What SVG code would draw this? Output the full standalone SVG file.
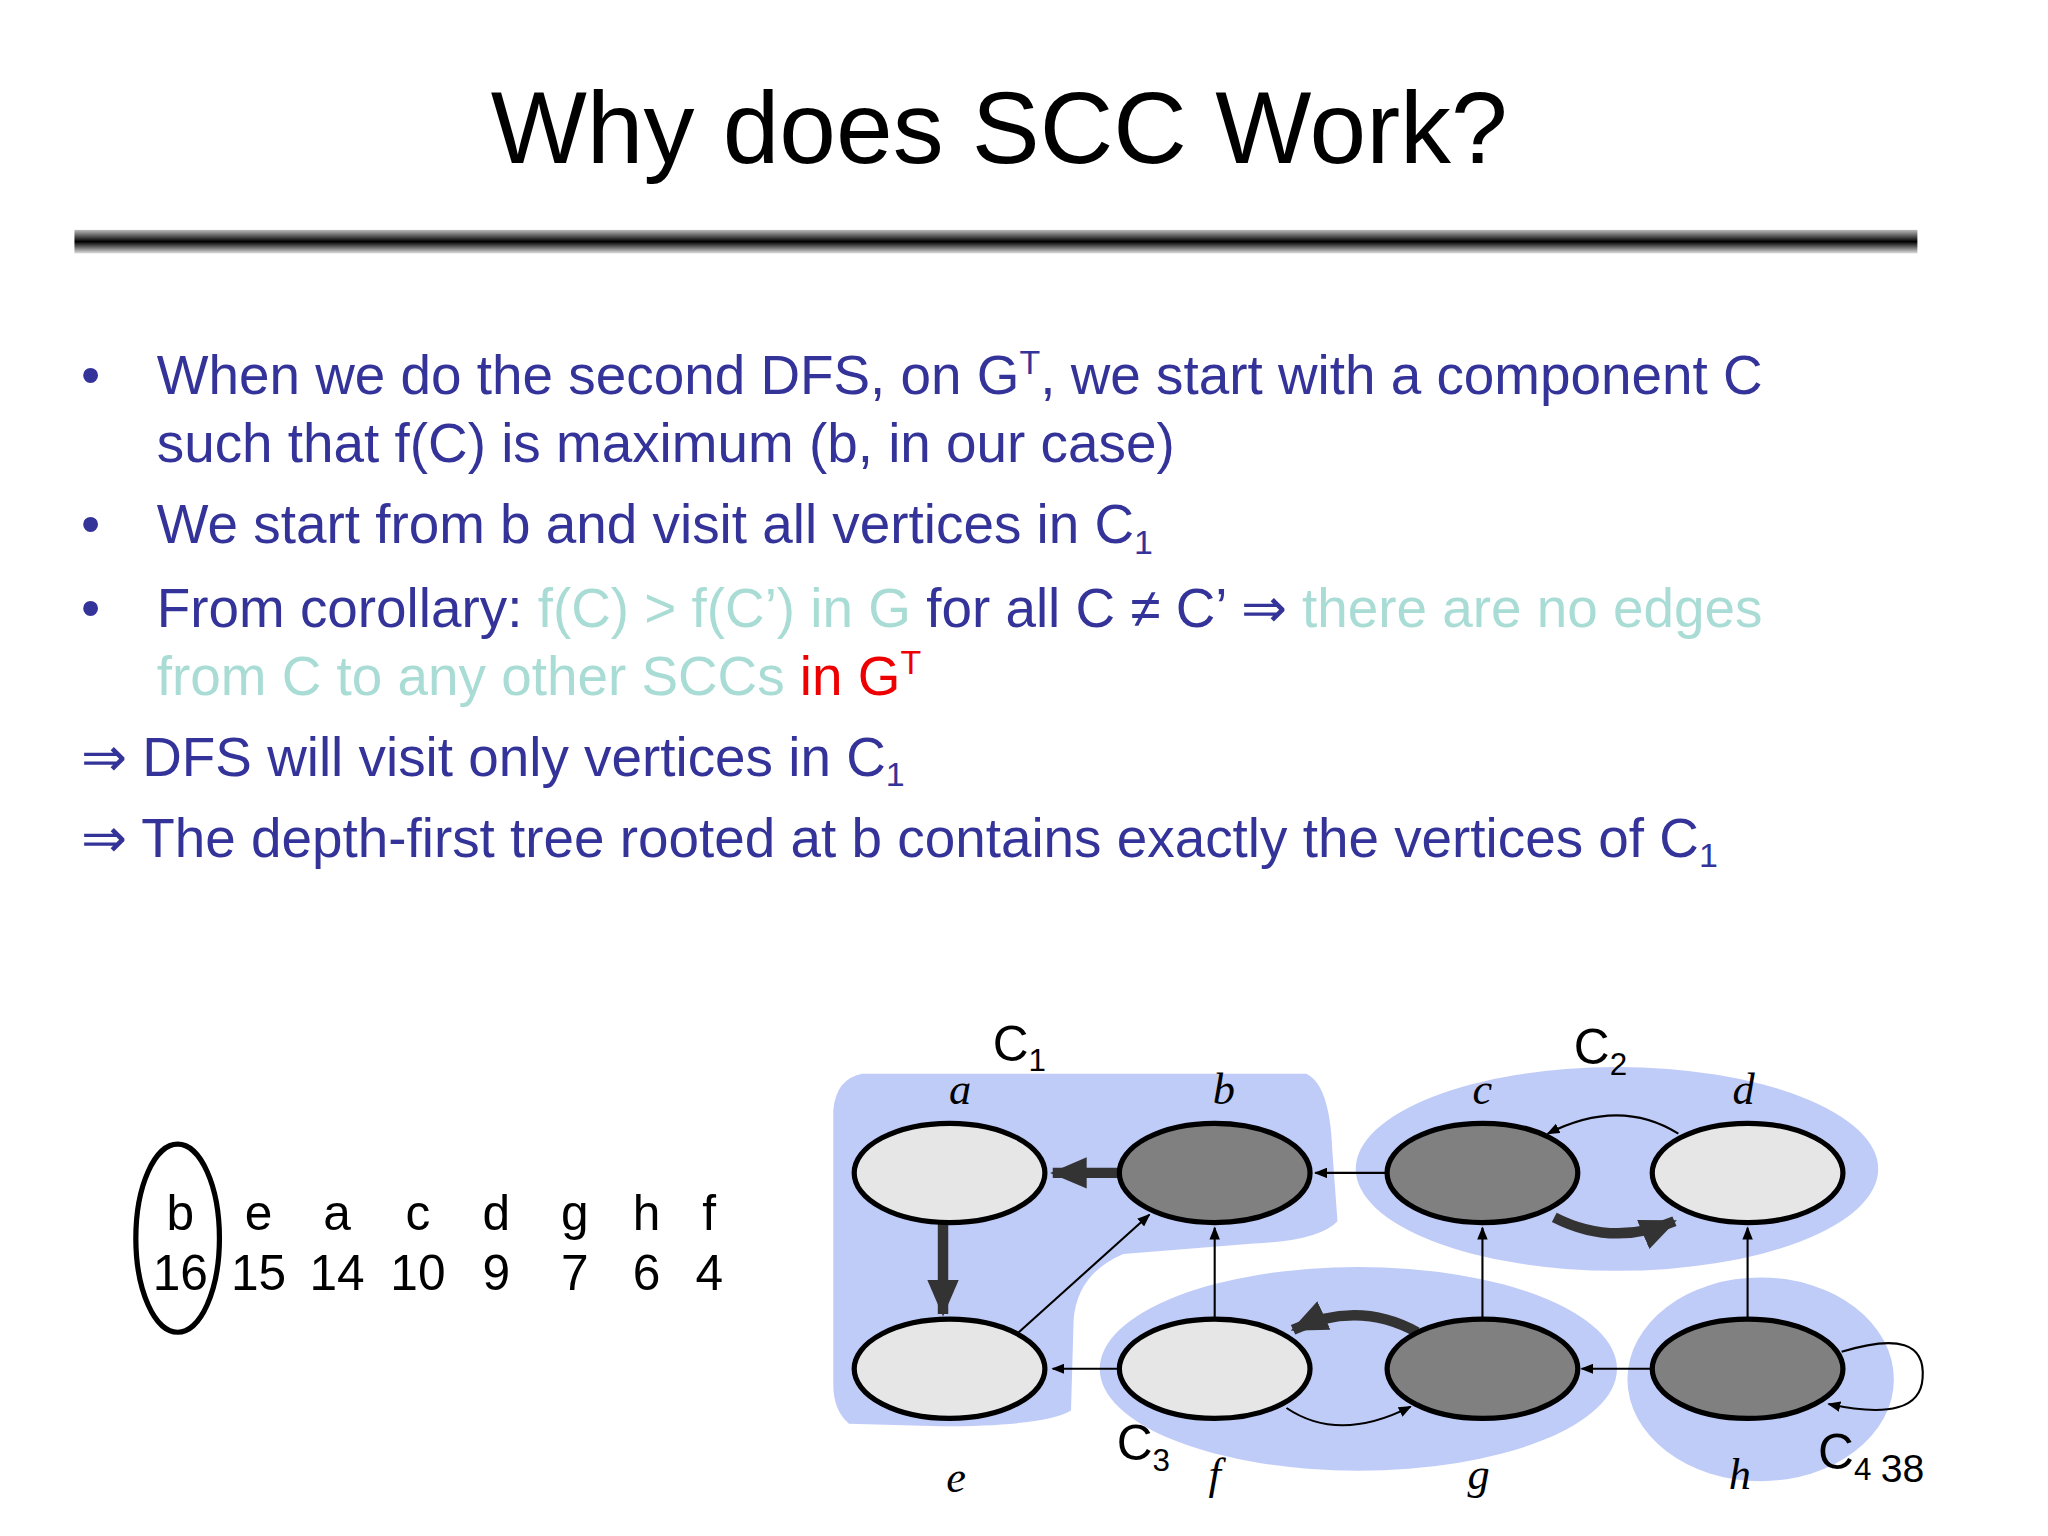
<svg xmlns="http://www.w3.org/2000/svg" width="2048" height="1536" viewBox="0 0 2048 1536">
<defs>
<style>
.t{font-family:"Liberation Sans",Arial,sans-serif;fill:#333399;font-size:42px}
.k{font-family:"Liberation Sans",Arial,sans-serif;fill:#000;font-size:38px}
.lab{font-family:"Liberation Serif","Times New Roman",serif;font-style:italic;font-size:34px;fill:#000}
.lt{fill:#e6e6e6;stroke:#000;stroke-width:4}
.dk{fill:#808080;stroke:#000;stroke-width:4}
.e{stroke:#000;stroke-width:1.6;fill:none;marker-end:url(#ah)}
.E{stroke:#333;stroke-width:8;fill:none;marker-end:url(#AH)}
.tl{fill:#a8dcd4}
.blob{fill:#c0ccf8}
</style>
<marker id="ah" markerWidth="10" markerHeight="8" refX="9" refY="4" orient="auto" markerUnits="userSpaceOnUse"><path d="M0,0 L10,4 L0,8 z" fill="#000"/></marker>
<marker id="AH" markerWidth="28" markerHeight="24" refX="26" refY="12" orient="auto" markerUnits="userSpaceOnUse"><path d="M0,0 L28,12 L0,24 z" fill="#333"/></marker>
<linearGradient id="bar" x1="0" y1="0" x2="0" y2="1"><stop offset="0" stop-color="#bbb"/><stop offset="0.5" stop-color="#000"/><stop offset="1" stop-color="#ddd"/></linearGradient>
</defs>
<rect width="2048" height="1536" fill="#fff"/>
<g transform="scale(1.30612)">
<text x="765" y="125" text-anchor="middle" font-family="Liberation Sans,Arial,sans-serif" font-size="78" fill="#000">Why does SCC Work?</text>
<rect x="57" y="176" width="1411" height="18" fill="url(#bar)"/>
<g class="t">
<text x="62" y="302">•</text><text x="120" y="302">When we do the second DFS, on G<tspan font-size="26" dy="-16">T</tspan><tspan dy="16">, we start with a component C</tspan></text>
<text x="120" y="354">such that f(C) is maximum (b, in our case)</text>
<text x="62" y="416">•</text><text x="120" y="416">We start from b and visit all vertices in C<tspan font-size="26" dy="8">1</tspan></text>
<text x="62" y="480">•</text><text x="120" y="480">From corollary: <tspan class="tl">f(C) &gt; f(C’) in G</tspan> for all C ≠ C’ ⇒ <tspan class="tl">there are no edges</tspan></text>
<text x="120" y="532"><tspan class="tl">from C to any other SCCs </tspan><tspan fill="#ee0000">in G</tspan><tspan fill="#ee0000" font-size="26" dy="-16">T</tspan></text>
<text x="62" y="594">⇒ DFS will visit only vertices in C<tspan font-size="26" dy="8">1</tspan></text>
<text x="62" y="656">⇒ The depth-first tree rooted at b contains exactly the vertices of C<tspan font-size="26" dy="8">1</tspan></text>
</g>
<g id="order" class="k" text-anchor="middle">
<text x="138" y="942">b</text><text x="198" y="942">e</text><text x="258" y="942">a</text><text x="320" y="942">c</text><text x="380" y="942">d</text><text x="440" y="942">g</text><text x="495" y="942">h</text><text x="543" y="942">f</text>
<text x="138" y="988">16</text><text x="198" y="988">15</text><text x="258" y="988">14</text><text x="320" y="988">10</text><text x="380" y="988">9</text><text x="440" y="988">7</text><text x="495" y="988">6</text><text x="543" y="988">4</text>
<ellipse cx="136" cy="948" rx="32" ry="72" fill="none" stroke="#000" stroke-width="4"/>
</g>
<g id="blobs">
<path class="blob" d="M660,822 L1000,822 Q1018,830 1020,880 L1024,935 Q1010,950 960,952 L860,960 Q825,975 822,1010 L820,1080 Q800,1092 720,1092 L650,1090 Q638,1080 638,1060 L638,850 Q640,826 660,822 z"/>
<ellipse class="blob" cx="1238" cy="895" rx="200" ry="78"/>
<ellipse class="blob" cx="1040" cy="1048" rx="198" ry="78"/>
<ellipse class="blob" cx="1348" cy="1056" rx="102" ry="78"/>
</g>
<g id="connectors">
<path class="E" d="M857,898 L806,898"/>
<path class="E" d="M722,937 L722,1006"/>
<path class="e" d="M780,1020 L880,930"/>
<path class="e" d="M930,1009 L930,940"/>
<path class="e" d="M1062,898 L1007,898"/>
<path class="e" d="M1285,868 Q1240,840 1185,868"/>
<path class="E" d="M1190,932 Q1235,955 1282,935"/>
<path class="e" d="M1135,1009 L1135,940"/>
<path class="e" d="M1338,1009 L1338,940"/>
<path class="E" d="M1085,1020 Q1040,995 990,1018"/>
<path class="e" d="M858,1048 L806,1048"/>
<path class="e" d="M985,1078 Q1025,1105 1080,1077"/>
<path class="e" d="M1265,1048 L1211,1048"/>
<path class="e" d="M1410,1035 Q1475,1015 1472,1055 Q1470,1090 1400,1075"/>
</g>
<g id="node-a"><ellipse class="lt" cx="727" cy="898" rx="73" ry="38"/><text class="lab" x="735" y="845" text-anchor="middle">a</text></g>
<g id="node-b"><ellipse class="dk" cx="930" cy="898" rx="73" ry="38"/><text class="lab" x="937" y="845" text-anchor="middle">b</text></g>
<g id="node-c"><ellipse class="dk" cx="1135" cy="898" rx="73" ry="38"/><text class="lab" x="1135" y="845" text-anchor="middle">c</text></g>
<g id="node-d"><ellipse class="lt" cx="1338" cy="898" rx="73" ry="38"/><text class="lab" x="1335" y="845" text-anchor="middle">d</text></g>
<g id="node-e"><ellipse class="lt" cx="727" cy="1048" rx="73" ry="38"/><text class="lab" x="732" y="1142" text-anchor="middle">e</text></g>
<g id="node-f"><ellipse class="lt" cx="930" cy="1048" rx="73" ry="38"/><text class="lab" x="930" y="1140" text-anchor="middle">f</text></g>
<g id="node-g"><ellipse class="dk" cx="1135" cy="1048" rx="73" ry="38"/><text class="lab" x="1132" y="1140" text-anchor="middle">g</text></g>
<g id="node-h"><ellipse class="dk" cx="1338" cy="1048" rx="73" ry="38"/><text class="lab" x="1332" y="1140" text-anchor="middle">h</text></g>
<g class="k" font-size="36">
<text x="760" y="812" class="k">C<tspan font-size="24" dy="8">1</tspan></text>
<text x="1205" y="815" class="k">C<tspan font-size="24" dy="8">2</tspan></text>
<text x="855" y="1118" class="k">C<tspan font-size="24" dy="8">3</tspan></text>
<text x="1392" y="1125" class="k">C<tspan font-size="24" dy="8">4</tspan></text>
<text x="1440" y="1135" font-family="Liberation Sans,Arial,sans-serif" font-size="30">38</text>
</g>
</g>
</svg>
